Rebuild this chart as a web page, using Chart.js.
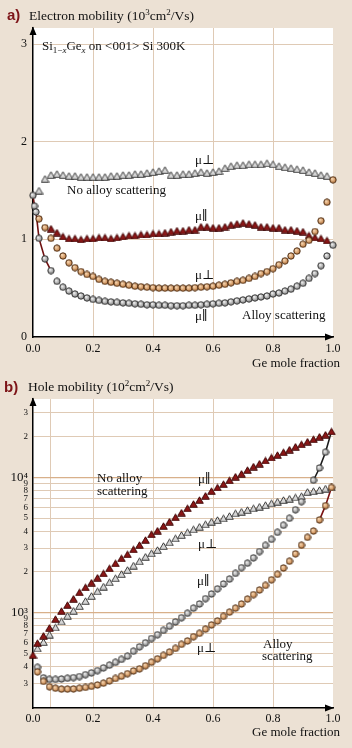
<!DOCTYPE html>
<html>
<head>
<meta charset="utf-8">
<script src="https://cdn.jsdelivr.net/npm/chart.js@4.4.1/dist/chart.umd.min.js"></script>
<style>
html,body{margin:0;padding:0;background:#ece1d4;}
#wrap{position:relative;width:352px;height:748px;overflow:hidden;font-family:"Liberation Serif","DejaVu Serif",serif;color:#111;}
#wrap canvas{position:absolute;left:0;}
.t{position:absolute;white-space:nowrap;font-size:13px;line-height:1;}
.pl{font-family:"Liberation Sans","DejaVu Sans",sans-serif;font-weight:bold;color:#7d1418;font-size:15px;}
.ttl{font-size:13.5px;}
.t sup{font-size:9px;vertical-align:baseline;position:relative;top:-5px;}
.t sub{font-size:9px;vertical-align:baseline;position:relative;top:3px;}
</style>
</head>
<body>
<div id="wrap">
<canvas id="ca" width="352" height="372" style="top:0"></canvas>
<canvas id="cb" width="352" height="376" style="top:372px"></canvas>

<div class="t pl" style="left:7px;top:7px">a)</div>
<div class="t ttl" style="left:29px;top:8.7px">Electron mobility (10<sup>3</sup>cm<sup>2</sup>/Vs)</div>
<div class="t" style="left:42px;top:39px">Si<sub>1−<i>x</i></sub>Ge<sub><i>x</i></sub> on &lt;001&gt; Si 300K</div>
<div class="t" style="left:195px;top:153px">μ⊥</div>
<div class="t" style="left:67px;top:182.7px">No alloy scattering</div>
<div class="t" style="left:195px;top:209px">μ∥</div>
<div class="t" style="left:195px;top:268px">μ⊥</div>
<div class="t" style="left:195px;top:309px">μ∥</div>
<div class="t" style="left:242px;top:308.4px">Alloy scattering</div>
<div class="t" style="left:252px;top:355.8px">Ge mole fraction</div>

<div class="t pl" style="left:4px;top:378.8px">b)</div>
<div class="t ttl" style="left:28px;top:380.2px">Hole mobility (10<sup>2</sup>cm<sup>2</sup>/Vs)</div>
<div class="t" style="left:97px;top:470.8px">No alloy</div>
<div class="t" style="left:97px;top:483.6px">scattering</div>
<div class="t" style="left:198px;top:472px">μ∥</div>
<div class="t" style="left:198px;top:537px">μ⊥</div>
<div class="t" style="left:197px;top:574px">μ∥</div>
<div class="t" style="left:197px;top:641px">μ⊥</div>
<div class="t" style="left:263px;top:636.8px">Alloy</div>
<div class="t" style="left:262px;top:648.6px">scattering</div>
<div class="t" style="left:252px;top:725px">Ge mole fraction</div>
</div>

<script>
// ---------- Panel a: electron mobility (10^3 cm^2/Vs) ----------
const xElectron = [0,0.02,0.04,0.06,0.08,0.1,0.12,0.14,0.16,0.18,0.2,0.22,0.24,0.26,0.28,0.3,0.32,0.34,0.36,0.38,0.4,0.42,0.44,0.46,0.48,0.5,0.52,0.54,0.56,0.58,0.6,0.62,0.64,0.66,0.68,0.7,0.72,0.74,0.76,0.78,0.8,0.82,0.84,0.86,0.88,0.9,0.92,0.94,0.96,0.98,1.0];
const muPerpNoAlloyE = [null,1.50,1.62,1.66,1.67,1.66,1.65,1.65,1.64,1.64,1.64,1.64,1.64,1.65,1.65,1.66,1.66,1.67,1.67,1.68,1.69,1.70,1.71,1.66,1.66,1.67,1.67,1.68,1.69,1.68,1.69,1.70,1.73,1.75,1.76,1.76,1.77,1.77,1.77,1.78,1.77,1.75,1.74,1.73,1.72,1.71,1.69,1.68,1.66,1.65,null];
const muParNoAlloyE = [null,null,null,1.11,1.07,1.03,1.01,1.01,1.00,1.01,1.01,1.02,1.02,1.01,1.02,1.03,1.04,1.04,1.05,1.05,1.06,1.06,1.07,1.08,1.09,1.09,1.10,1.10,1.13,1.13,1.12,1.12,1.13,1.15,1.16,1.17,1.16,1.15,1.13,1.13,1.12,1.12,1.10,1.10,1.09,1.08,1.04,1.02,1.01,0.99,null];
const muPerpAlloyE = [null,1.21,1.12,1.01,0.91,0.83,0.76,0.71,0.67,0.64,0.62,0.59,0.57,0.56,0.55,0.54,0.53,0.52,0.515,0.51,0.505,0.50,0.50,0.50,0.50,0.50,0.50,0.505,0.51,0.515,0.52,0.53,0.54,0.555,0.57,0.58,0.60,0.62,0.65,0.67,0.70,0.74,0.78,0.83,0.88,0.95,0.99,1.08,1.19,1.38,1.61];
const muParAlloyE = [1.45,1.01,0.80,0.68,0.57,0.51,0.47,0.44,0.42,0.40,0.385,0.375,0.365,0.36,0.355,0.35,0.345,0.34,0.335,0.33,0.33,0.325,0.325,0.32,0.32,0.32,0.325,0.325,0.33,0.335,0.34,0.345,0.35,0.36,0.37,0.38,0.39,0.40,0.41,0.42,0.44,0.45,0.47,0.49,0.52,0.55,0.60,0.65,0.73,0.83,0.94];
const xNearZeroE = [0.005,0.01];
const muParAlloyNearZeroE = [1.34,1.28];
const xTicksE = [0,0.2,0.4,0.6,0.8,1.0];
const xTickLabelsE = ['0.0','0.2','0.4','0.6','0.8','1.0'];
const yTicksE = [0,1,2,3];
const yTickLabelsE = ['0','1','2','3'];

// ---------- Panel b: hole mobility (cm^2/Vs, log) ----------
const xHole = [0,0.015,0.035,0.055,0.075,0.095,0.115,0.135,0.155,0.175,0.195,0.215,0.235,0.255,0.275,0.295,0.315,0.335,0.355,0.375,0.395,0.415,0.435,0.455,0.475,0.495,0.515,0.535,0.555,0.575,0.595,0.615,0.635,0.655,0.675,0.695,0.715,0.735,0.755,0.775,0.795,0.815,0.835,0.855,0.875,0.895,0.915,0.935,0.955,0.975,0.995];
const muParNoAlloyH = [488,597,676,774,898,1029,1140,1268,1415,1540,1667,1813,1953,2128,2317,2522,2700,2940,3162,3443,3792,4033,4367,4700,5067,5480,5907,6357,6795,7300,7900,8400,8900,9500,10100,10600,11300,12000,12600,13300,14000,14600,15300,16000,16800,17500,18300,19100,19900,20600,21800];
const muPerpNoAlloyH = [null,546,608,690,780,862,950,1035,1120,1220,1330,1440,1560,1680,1800,1930,2070,2230,2400,2590,2750,2905,3110,3311,3543,3747,3925,4131,4315,4498,4700,4838,4979,5176,5420,5571,5728,5899,6063,6237,6420,6607,6795,6950,7100,7250,7800,7900,8050,8250,8400];
const muParAlloyH = [null,395,331,322,322,324,328,332,338,349,360,374,392,410,430,452,478,520,560,600,645,688,740,795,855,918,990,1080,1160,1270,1375,1500,1630,1770,1950,2150,2320,2540,2830,3140,3480,3920,4420,4980,5750,6600,null,9500,11700,15300,null];
const muPerpAlloyH = [null,366,311,284,277,273,273,274,277,281,286,293,302,314,327,340,355,372,385,406,431,457,484,512,545,584,619,665,704,756,813,870,940,1010,1080,1160,1260,1360,1470,1590,1750,1920,2140,2400,2720,3150,3600,4010,4840,6170,8400];
const xTicksH = [0,0.058,0.2,0.4,0.6,0.8,1.0];
const xTickLabelsH = ['0.0','','0.2','0.4','0.6','0.8','1.0'];
const yTicksH = [300,400,500,600,700,800,900,1000,2000,3000,4000,5000,6000,7000,8000,9000,10000,20000,30000];
const yTickLabelsH = ['3','4','5','6','7','8','9','10³','2','3','4','5','6','7','8','9','10⁴','2','3'];
const yMajorH = [1000,10000];

// ---------- styling helpers ----------
const FONT = '"Liberation Serif","DejaVu Serif",serif';
const GRID = '#dfcab5';
const GRID_MAJOR = '#d8b08a';
const NONE = 'rgba(0,0,0,0)';

function pts(xs, ys){ const out=[]; xs.forEach((x,i)=>{ if(ys[i]!==null && ys[i]!==undefined) out.push({x:x,y:ys[i]}); }); return out; }

function ball(light, dark, edge){
  const c=document.createElement('canvas'); c.width=8; c.height=8;
  const g=c.getContext('2d');
  const gr=g.createRadialGradient(3,2.8,0.3,4,4,4);
  gr.addColorStop(0,light); gr.addColorStop(1,dark);
  g.fillStyle=gr; g.beginPath(); g.arc(4,4,3.2,0,Math.PI*2); g.fill();
  g.lineWidth=0.9; g.strokeStyle=edge; g.stroke();
  return c;
}
function tri(fill, edge){
  const c=document.createElement('canvas'); c.width=9; c.height=8;
  const g=c.getContext('2d');
  g.beginPath(); g.moveTo(4.5,0.8); g.lineTo(8.3,7.3); g.lineTo(0.7,7.3); g.closePath();
  g.fillStyle=fill; g.fill(); g.lineWidth=0.9; g.strokeStyle=edge; g.stroke();
  return c;
}
const IMG = {
  grayBall: ball('#f2f2f2','#6f6f6f','#2a2a2a'),
  orangeBall: ball('#f8d8b4','#b46a2a','#3f220c'),
  redTri: tri('#8a1616','#3a0505'),
  lightTri: tri('#d6d6d6','#2e2e2e')
};
function markers(data, img){ return {data:data, showLine:false, pointStyle:img, pointRadius:4, pointHoverRadius:4, clip:false}; }
function line(data, color){ return {data:data, showLine:true, pointRadius:0, borderColor:color, borderWidth:1.6, fill:false, clip:false}; }

const plotBg = {id:'plotBg', beforeDraw(chart){ const {ctx, chartArea:a}=chart; ctx.save(); ctx.fillStyle='#ffffff'; ctx.fillRect(a.left,a.top,a.right-a.left,a.bottom-a.top); ctx.restore(); }};
const axisArrows = {id:'axisArrows', afterDraw(chart){
  const {ctx, chartArea:a}=chart; ctx.save(); ctx.fillStyle='#000';
  ctx.beginPath(); ctx.moveTo(a.left, a.top-1.5); ctx.lineTo(a.left-3.5, a.top+7); ctx.lineTo(a.left+3.5, a.top+7); ctx.closePath(); ctx.fill();
  ctx.beginPath(); ctx.moveTo(a.right+1, a.bottom); ctx.lineTo(a.right-8, a.bottom-3.5); ctx.lineTo(a.right-8, a.bottom+3.5); ctx.closePath(); ctx.fill();
  ctx.restore(); }};

const near = (a,b)=>Math.abs(a-b)<1e-9;
const tickVal = c => (c && c.tick) ? c.tick.value : NaN;

function baseOptions(scales, pad){
  return {responsive:false, animation:false, devicePixelRatio:1, events:[],
    layout:{padding:pad},
    plugins:{legend:{display:false}, tooltip:{enabled:false}, title:{display:false}},
    scales:scales};
}

// ---------- Chart a ----------
const grayE = pts(xElectron, muParAlloyE).concat(pts(xNearZeroE, muParAlloyNearZeroE)).sort((p,q)=>p.x-q.x);
const redLineE = grayE.filter(p => p.x <= 0.06);

new Chart(document.getElementById('ca'), {
  type:'scatter',
  data:{datasets:[
    markers(grayE, IMG.grayBall),
    markers(pts(xElectron, muPerpAlloyE), IMG.orangeBall),
    markers(pts(xElectron, muParNoAlloyE), IMG.redTri),
    markers(pts(xElectron, muPerpNoAlloyE), IMG.lightTri),
    line(redLineE, '#6e1010')
  ]},
  options: baseOptions({
    x:{type:'linear', min:0, max:1,
      afterBuildTicks: s=>{ s.ticks = xTicksE.map(v=>({value:v})); },
      afterFit: s=>{ s.height = 35; },
      grid:{drawTicks:false, lineWidth:1, color: c => (near(tickVal(c),0)||near(tickVal(c),1)) ? NONE : GRID},
      border:{display:true, color:'#000', width:1.5},
      ticks:{padding:5, color:'#111', maxRotation:0, autoSkip:false, font:{family:FONT, size:12}, callback:(v,i)=>xTickLabelsE[i]}
    },
    y:{type:'linear', min:0, max:3.164,
      afterBuildTicks: s=>{ s.ticks = yTicksE.map(v=>({value:v})); },
      afterFit: s=>{ s.width = 33; },
      grid:{drawTicks:false, lineWidth:1, color: c => near(tickVal(c),0) ? NONE : GRID},
      border:{display:true, color:'#000', width:1.5},
      ticks:{padding:6, color:'#111', autoSkip:false, font:{family:FONT, size:12}, callback:(v,i)=>yTickLabelsE[i]}
    }
  }, {top:28, right:19, left:0, bottom:0}),
  plugins:[plotBg, axisArrows]
});

// ---------- Chart b ----------
const grayH = pts(xHole, muParAlloyH);
const redTriH = pts(xHole, muParNoAlloyH);
const orangeH = pts(xHole, muPerpAlloyH);
const grayJoinH = grayH.slice(-3).concat([redTriH[redTriH.length-1]]);
const orangeJoinH = orangeH.slice(-3);
const isMajor = c => yMajorH.indexOf(tickVal(c)) >= 0;

new Chart(document.getElementById('cb'), {
  type:'scatter',
  data:{datasets:[
    markers(redTriH, IMG.redTri),
    markers(orangeH, IMG.orangeBall),
    markers(grayH, IMG.grayBall),
    markers(pts(xHole, muPerpNoAlloyH), IMG.lightTri),
    line(grayJoinH, '#1c1c1c'),
    line(orangeJoinH, '#7a1212')
  ]},
  options: baseOptions({
    x:{type:'linear', min:0, max:1,
      afterBuildTicks: s=>{ s.ticks = xTicksH.map(v=>({value:v})); },
      afterFit: s=>{ s.height = 40; },
      grid:{drawTicks:false, lineWidth:1, color: c => (near(tickVal(c),0)||near(tickVal(c),1)) ? NONE : GRID},
      border:{display:true, color:'#000', width:1.5},
      ticks:{padding:4, color:'#111', maxRotation:0, autoSkip:false, font:{family:FONT, size:12}, callback:(v,i)=>xTickLabelsH[i]}
    },
    y:{type:'logarithmic', min:198, max:37800,
      afterBuildTicks: s=>{ s.ticks = yTicksH.map(v=>({value:v})); },
      afterFit: s=>{ s.width = 33; },
      grid:{drawTicks:false, lineWidth: c => isMajor(c) ? 1.3 : 1, color: c => isMajor(c) ? GRID_MAJOR : GRID},
      border:{display:true, color:'#000', width:1.5},
      ticks:{padding:5, color:'#111', autoSkip:false, font: c => ({family:FONT, size: isMajor(c) ? 13 : 9}), callback:(v,i)=>yTickLabelsH[i]}
    }
  }, {top:27, right:19, left:0, bottom:0}),
  plugins:[plotBg, axisArrows]
});
</script>
</body>
</html>
